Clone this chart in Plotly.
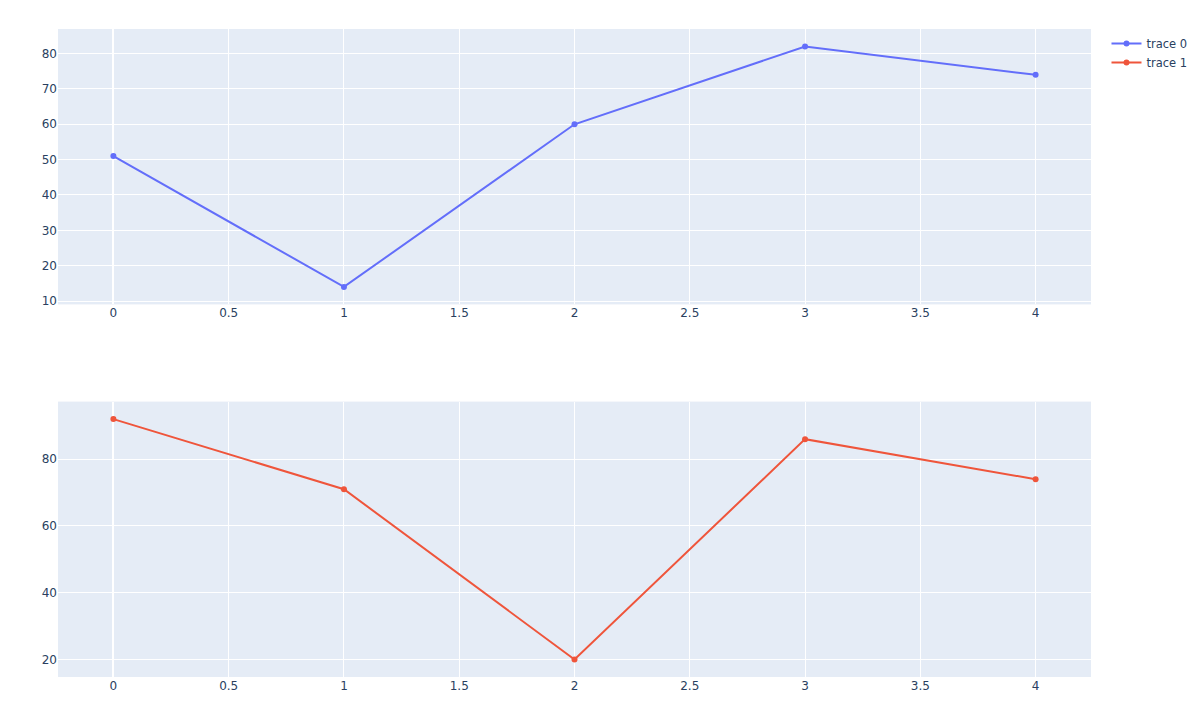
import plotly.graph_objects as go
from plotly.subplots import make_subplots

x_vals = [0, 1, 2, 3, 4]
trace0_y = [51, 14, 60, 82, 74]
trace1_y = [92, 71, 20, 86, 74]

fig = make_subplots(rows=2, cols=1)
fig.add_trace(go.Scatter(x=x_vals, y=trace0_y, mode="lines+markers", name="trace 0"), row=1, col=1)
fig.add_trace(go.Scatter(x=x_vals, y=trace1_y, mode="lines+markers", name="trace 1"), row=2, col=1)
fig.update_layout(width=1200, height=721,
                  margin=dict(l=50, r=117, t=21, b=52, autoexpand=False),
                  font=dict(family="DejaVu Sans"),
                  legend=dict(x=1.015, font=dict(size=11.5)))
fig.write_html("out.html")
